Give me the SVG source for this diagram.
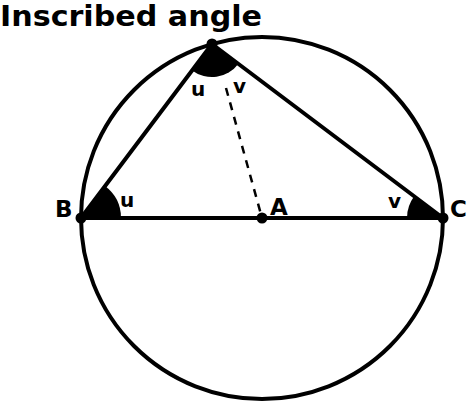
<svg xmlns="http://www.w3.org/2000/svg" width="474" height="404" viewBox="0 0 474 404">
<style>
.ln{stroke:#000;stroke-width:4;fill:none;stroke-linecap:round;stroke-linejoin:round}
.t{font-family:"DejaVu Sans",Inter,"Liberation Sans",sans-serif;font-weight:700;fill:#000}
.lb{font-size:23px}
.ang{font-size:20px}
</style>
<rect width="474" height="404" fill="#fff"/>
<text class="t" x="0" y="26" font-size="28" textLength="262" lengthAdjust="spacingAndGlyphs">Inscribed angle</text>
<g id="connectors">
<circle class="ln" cx="262" cy="218" r="181"/>
<path class="ln" d="M212 44 L81 218 L443 218 Z"/>
<line x1="226" y1="88" x2="262" y2="218" stroke="#000" stroke-width="2.5" stroke-dasharray="8,7"/>
</g>
<g id="angle-P">
<path d="M212 44 L192.1 70.4 A33 33 0 0 0 238.3 63.9 Z" fill="#000"/>
<text class="t ang" x="191" y="96">u</text>
<text class="t ang" x="233" y="93">v</text>
</g>
<g id="angle-B">
<path d="M81 218 L105 186.1 A40 40 0 0 1 121 218 Z" fill="#000"/>
<text class="t ang" x="120" y="207">u</text>
</g>
<g id="angle-C">
<path d="M443 218 L414.2 196.3 A36 36 0 0 0 407 218 Z" fill="#000"/>
<text class="t ang" x="388" y="208">v</text>
</g>
<g id="node-B">
<circle cx="81" cy="218" r="5.5" fill="#000"/>
<text class="t lb" x="55" y="217">B</text>
</g>
<g id="node-A">
<circle cx="262" cy="218" r="5.5" fill="#000"/>
<text class="t lb" x="270" y="215">A</text>
</g>
<g id="node-C">
<circle cx="443" cy="218" r="5.5" fill="#000"/>
<text class="t lb" x="450" y="217">C</text>
</g>
<g id="node-P">
<circle cx="212" cy="44" r="5.5" fill="#000"/>
</g>
</svg>
